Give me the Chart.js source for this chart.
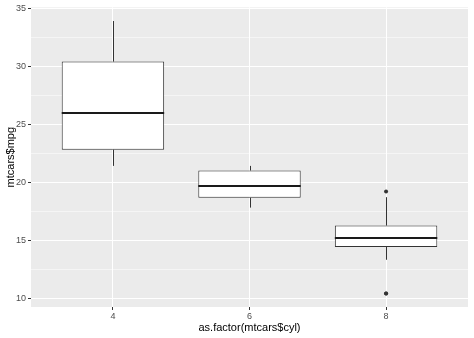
<!DOCTYPE html>
<html>
<head>
<meta charset="utf-8">
<script src="https://cdn.jsdelivr.net/npm/chart.js@4"></script>
<style>
  html, body { margin: 0; padding: 0; background: #fff; }
  #wrap { width: 474px; height: 338px; }
</style>
</head>
<body>
<div id="wrap"><canvas id="boxChart"></canvas></div>
<script>
// mtcars$mpg grouped by cyl
const cylLabels = ["4", "6", "8"];
const boxLow = [22.8, 18.65, 14.4];     // Q1
const boxHigh = [30.4, 21.0, 16.25];    // Q3
const medians = [26.0, 19.7, 15.2];
const whiskerLow = [21.4, 17.8, 13.3];
const whiskerHigh = [33.9, 21.4, 18.7];
const outlierGroup = [3, 3, 3];
const outlierValues = [10.4, 10.4, 19.2];
const yTickValues = [10, 12.5, 15, 17.5, 20, 22.5, 25, 27.5, 30, 32.5, 35];

const inkColor = "#333333";

// grey panel behind the grid
const panelBg = {
    id: "panelBg",
    beforeDraw(chart) {
        const { ctx, chartArea: a } = chart;
        ctx.save();
        ctx.fillStyle = "#EBEBEB";
        ctx.fillRect(a.left, a.top, a.right - a.left, a.bottom - a.top);
        ctx.restore();
    }
};

// whiskers (under the boxes) and medians (on top)
const boxExtras = {
    id: "boxExtras",
    beforeDatasetsDraw(chart) {
        const { ctx, scales: { x, y } } = chart;
        ctx.save();
        ctx.strokeStyle = inkColor;
        ctx.lineWidth = 1;
        cylLabels.forEach((c, i) => {
            const px = Math.round(x.getPixelForValue(i + 1)) + 0.5;
            ctx.beginPath();
            ctx.moveTo(px, y.getPixelForValue(whiskerLow[i]));
            ctx.lineTo(px, y.getPixelForValue(boxLow[i]));
            ctx.moveTo(px, y.getPixelForValue(boxHigh[i]));
            ctx.lineTo(px, y.getPixelForValue(whiskerHigh[i]));
            ctx.stroke();
        });
        ctx.restore();
    },
    afterDatasetsDraw(chart) {
        const { ctx, scales: { y } } = chart;
        const meta = chart.getDatasetMeta(0);
        ctx.save();
        ctx.strokeStyle = "#1a1a1a";
        ctx.lineWidth = 2;
        cylLabels.forEach((c, i) => {
            const bar = meta.data[i];
            const half = bar.width / 2;
            const py = Math.round(y.getPixelForValue(medians[i]));
            ctx.beginPath();
            ctx.moveTo(bar.x - half, py);
            ctx.lineTo(bar.x + half, py);
            ctx.stroke();
        });
        ctx.restore();
    }
};

const tickFont = { family: "'Liberation Sans', Arial, sans-serif", size: 9 };
const titleFont = { family: "'Liberation Sans', Arial, sans-serif", size: 11 };

new Chart(document.getElementById("boxChart"), {
    type: "bar",
    data: {
        datasets: [
            {
                type: "bar",
                data: cylLabels.map((c, i) => ({ x: i + 1, y: [boxLow[i], boxHigh[i]] })),
                backgroundColor: "#FFFFFF",
                borderColor: inkColor,
                borderWidth: 1,
                borderSkipped: false,
                grouped: false,
                categoryPercentage: 1,
                barPercentage: 0.75
            },
            {
                type: "scatter",
                data: outlierValues.map((v, i) => ({ x: outlierGroup[i], y: v })),
                pointRadius: 2,
                pointBackgroundColor: inkColor,
                pointBorderWidth: 0
            }
        ]
    },
    options: {
        responsive: true,
        maintainAspectRatio: false,
        animation: false,
        layout: { padding: { top: 5, right: 6, left: 0, bottom: 0 } },
        plugins: { legend: { display: false }, tooltip: { enabled: false } },
        scales: {
            x: {
                type: "linear",
                min: 0.4,
                max: 3.6,
                offset: false,
                afterBuildTicks: (s) => { s.ticks = cylLabels.map((c, i) => ({ value: i + 1 })); },
                afterFit: (s) => { s.height = 31; },
                border: { display: false },
                grid: { offset: false, color: "#FFFFFF", lineWidth: 1, tickColor: inkColor, tickLength: 3, tickWidth: 1 },
                ticks: {
                    color: "#4D4D4D", font: tickFont, padding: 1, maxRotation: 0,
                    callback: (v) => cylLabels[v - 1]
                },
                title: {
                    display: true, text: "as.factor(mtcars$cyl)", color: "#000000",
                    font: titleFont, padding: { top: 0, bottom: 3 }
                }
            },
            y: {
                type: "linear",
                min: 9.225,
                max: 35.075,
                afterBuildTicks: (s) => { s.ticks = yTickValues.map(v => ({ value: v })); },
                afterFit: (s) => { s.width = 31; },
                border: { display: false },
                grid: {
                    color: "#FFFFFF",
                    lineWidth: (ctx) => (ctx.tick && ctx.tick.value % 5 === 0 ? 1 : 0.5),
                    tickColor: (ctx) => (ctx.tick && ctx.tick.value % 5 === 0 ? inkColor : "rgba(0,0,0,0)"),
                    tickLength: 3,
                    tickWidth: 1
                },
                ticks: {
                    color: "#4D4D4D", font: tickFont, padding: 2, autoSkip: false,
                    callback: (v) => (v % 5 === 0 ? String(v) : "")
                },
                title: {
                    display: true, text: "mtcars$mpg", color: "#000000",
                    font: titleFont, padding: { top: 4, bottom: 0 }
                }
            }
        }
    },
    plugins: [panelBg, boxExtras]
});
</script>
</body>
</html>
